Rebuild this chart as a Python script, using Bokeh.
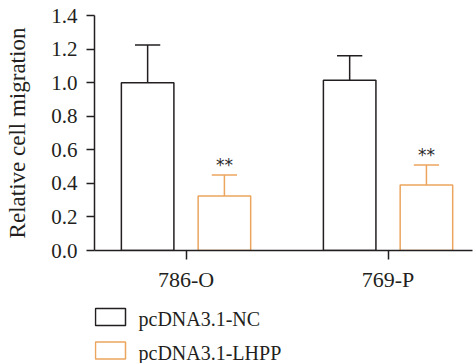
from bokeh.plotting import figure
from bokeh.layouts import column
from bokeh.models import ColumnDataSource, Range1d, FixedTicker, CustomJSTickFormatter
from bokeh.core.properties import value
from bokeh.embed import file_html
from bokeh.resources import INLINE

groups = ["786-O", "769-P"]
series = ["pcDNA3.1-NC", "pcDNA3.1-LHPP"]
nc_vals = [1.0, 1.015]
nc_err = [0.225, 0.145]
lhpp_vals = [0.325, 0.39]
lhpp_err = [0.125, 0.12]
y_ticks = [0.0, 0.2, 0.4, 0.6, 0.8, 1.0, 1.2, 1.4]

BLACK = "#231f20"
ORANGE = "#eba55e"
FONT = "Liberation Serif"

xs = [1, 2]
off = 0.19
bw = 0.26
cap = 0.125

p = figure(width=474, height=300, output_backend="svg", toolbar_location=None,
           x_range=Range1d(0.547, 2.418), y_range=Range1d(0, 1.4),
           min_border_left=94, min_border_bottom=50, min_border_top=15, min_border_right=2)
p.outline_line_color = None
p.grid.visible = False
p.background_fill_color = "white"

def draw(vals, errs, sign, color):
    x = [c + sign * off for c in xs]
    src = ColumnDataSource(dict(x=x, top=vals, hi=[v + e for v, e in zip(vals, errs)],
                                cl=[c - cap / 2 for c in x], cr=[c + cap / 2 for c in x]))
    p.vbar(x="x", top="top", width=bw, source=src, fill_color="white",
           line_color=color, line_width=1.5)
    p.segment(x0="x", y0="top", x1="x", y1="hi", source=src, line_color=color, line_width=1.5)
    p.segment(x0="cl", y0="hi", x1="cr", y1="hi", source=src, line_color=color, line_width=1.5)

draw(nc_vals, nc_err, -1, BLACK)
draw(lhpp_vals, lhpp_err, 1, ORANGE)

sig_src = ColumnDataSource(dict(x=[c + off for c in xs],
                                y=[v + e for v, e in zip(lhpp_vals, lhpp_err)],
                                t=["**", "**"]))
p.text(x="x", y="y", text="t", source=sig_src, text_align="center", text_baseline="bottom",
       y_offset=0, text_font=value("DejaVu Sans"), text_font_size="17px", text_color="#2a2a2a")

# axes
p.yaxis.ticker = FixedTicker(ticks=y_ticks)
p.yaxis.formatter = CustomJSTickFormatter(code="return tick.toFixed(1);")
p.yaxis.axis_label = "Relative cell migration"
p.yaxis.axis_label_text_font = FONT
p.yaxis.axis_label_text_font_style = "normal"
p.yaxis.axis_label_text_font_size = "23px"
p.yaxis.axis_label_text_color = BLACK
p.yaxis.axis_label_standoff = 18
p.yaxis.major_label_text_font = FONT
p.yaxis.major_label_text_font_size = "21px"
p.yaxis.major_label_text_color = BLACK
p.yaxis.major_label_standoff = 9
p.yaxis.minor_tick_line_color = None
p.yaxis.major_tick_in = 0
p.yaxis.major_tick_out = 8

p.xaxis.ticker = FixedTicker(ticks=xs)
p.xaxis.major_label_overrides = {xs[i]: groups[i] for i in range(len(xs))}
p.xaxis.major_label_text_font = FONT
p.xaxis.major_label_text_font_size = "22px"
p.xaxis.major_label_text_color = BLACK
p.xaxis.major_label_standoff = 7
p.xaxis.minor_tick_line_color = None
p.xaxis.major_tick_in = 0
p.xaxis.major_tick_out = 9

for ax in (p.xaxis, p.yaxis):
    ax.axis_line_color = BLACK
    ax.axis_line_width = 1.5
    ax.major_tick_line_color = BLACK
    ax.major_tick_line_width = 1.5

# legend strip: its frame is aligned with the main frame (x 94..472 on the page),
# so the ranges are set to page pixel coordinates
lg = figure(width=474, height=63, output_backend="svg", toolbar_location=None,
            x_range=Range1d(94, 472), y_range=Range1d(363, 300),
            min_border_left=94, min_border_top=0, min_border_bottom=0, min_border_right=2)
lg.axis.visible = False
lg.grid.visible = False
lg.outline_line_color = None
leg_src = ColumnDataSource(dict(x=[110, 110], y=[316.5, 350], tx=[138, 138], ty=[318.5, 352],
                                label=series, color=[BLACK, ORANGE]))
lg.rect(x="x", y="y", width=30, height=17, source=leg_src, fill_color="white",
        line_color="color", line_width=1.5)
lg.text(x="tx", y="ty", text="label", source=leg_src, text_baseline="middle",
        text_align="left", text_font=value(FONT), text_font_size="20px", text_color=BLACK)

open("out.html", "w").write(file_html(column(p, lg, spacing=0), INLINE))
